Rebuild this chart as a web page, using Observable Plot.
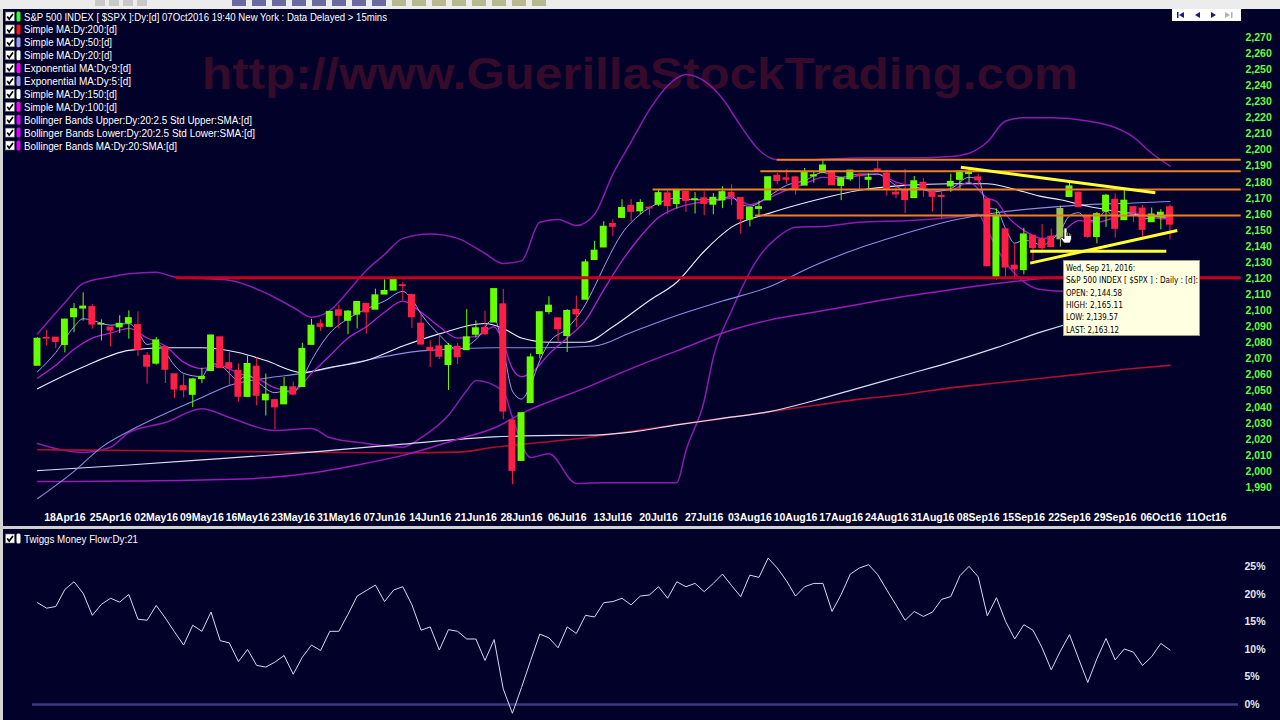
<!DOCTYPE html>
<html>
<head>
<meta charset="utf-8">
<script src="https://cdn.jsdelivr.net/npm/d3@7"></script>
<script src="https://cdn.jsdelivr.net/npm/@observablehq/plot@0.6"></script>
<style>
html,body{margin:0;padding:0;background:#01012a;overflow:hidden;}
#page{position:relative;width:1280px;height:720px;background:#01012a;overflow:hidden;}
.layer{position:absolute;left:0;}
</style>
</head>
<body>
<div id="page">
  <svg id="wm" class="layer" style="top:0" width="1280" height="528"></svg>
  <div id="price" class="layer" style="top:0"></div>
  <div id="flow" class="layer" style="top:530px"></div>
  <svg id="over" class="layer" style="top:0" width="1280" height="720"></svg>
</div>
<script>
// ---------------- DATA ----------------
// daily candles, index 0 = 13 Apr 2016 ... index 124 = 07 Oct 2016
const open = [
2065.9,2082.9,2083.1,2078.8,2096.1,2101.5,2102.1,2091.5,2089.4,2089.8,
2092.3,2090.9,2071.8,2067.2,2077.2,2060.3,2052.9,2047.8,2057.6,2062.6,
2083.3,2067.2,2062.5,2046.5,2065.0,2044.4,2044.2,2041.9,2052.2,2052.7,
2078.9,2091.4,2090.1,2100.1,2093.9,2097.7,2104.1,2100.8,2110.2,2112.7,
2115.7,2109.6,2091.8,2076.7,2077.6,2066.4,2077.4,2075.6,2085.2,2089.2,
2092.8,2103.8,2031.5,2006.7,2042.7,2073.2,2099.3,2095.1,2084.4,2100.4,
2107.0,2131.7,2139.5,2153.8,2157.9,2165.1,2162.0,2164.0,2166.1,2172.9,
2166.5,2173.7,2169.0,2169.8,2166.1,2168.8,2173.2,2169.9,2156.8,2163.5,
2168.8,2183.8,2182.2,2182.8,2178.0,2183.7,2186.1,2186.2,2177.8,2181.9,
2184.2,2181.6,2187.8,2185.1,2173.3,2175.1,2170.2,2179.5,2173.6,2171.3,
2177.5,2181.6,2185.2,2182.8,2169.1,2120.9,2150.5,2127.9,2125.4,2146.5,
2144.0,2145.9,2144.58,2170.9,2173.3,2158.5,2146.0,2161.9,2168.9,2156.5,
2164.3,2163.4,2155.2,2158.2,2164.2];
const high = [
2083.2,2087.8,2083.2,2094.7,2104.4,2111.1,2103.8,2094.3,2089.4,2096.9,
2099.9,2099.3,2073.9,2083.4,2077.2,2060.3,2060.2,2057.7,2064.2,2084.9,
2083.3,2073.9,2066.8,2071.9,2070.7,2060.6,2044.2,2058.4,2055.6,2079.7,
2094.7,2094.3,2099.1,2103.5,2100.0,2105.3,2104.1,2113.4,2119.2,2120.6,
2117.6,2109.6,2098.1,2081.3,2085.2,2079.6,2079.6,2100.7,2093.7,2099.7,
2113.3,2113.3,2031.5,2036.1,2073.1,2098.9,2108.7,2095.1,2100.7,2109.1,
2131.7,2143.2,2155.4,2156.5,2169.0,2169.1,2169.1,2164.6,2175.6,2174.6,
2175.1,2173.7,2173.5,2174.0,2172.9,2177.1,2178.3,2170.2,2163.8,2168.2,
2182.9,2185.4,2187.7,2183.4,2188.5,2186.3,2193.8,2186.2,2183.1,2187.0,
2185.0,2185.2,2193.4,2186.7,2179.0,2187.9,2183.5,2182.3,2173.6,2173.6,
2184.9,2186.6,2187.9,2184.9,2169.1,2163.3,2150.5,2141.3,2151.3,2146.5,
2153.6,2150.8,2165.11,2179.99,2173.8,2158.5,2161.1,2172.4,2172.7,2175.3,
2164.4,2165.5,2163.9,2162.9,2165.9];
const low = [
2065.9,2078.1,2076.3,2073.7,2086.3,2093.5,2088.5,2081.2,2077.5,2085.8,
2082.3,2071.6,2054.3,2066.1,2054.7,2045.4,2045.8,2039.7,2054.6,2062.6,
2064.5,2053.1,2043.1,2046.5,2040.8,2034.5,2025.9,2041.9,2047.3,2052.7,
2078.9,2087.1,2090.1,2088.7,2085.1,2088.6,2085.4,2100.8,2110.2,2112.7,
2106.2,2089.0,2078.5,2064.6,2069.6,2050.4,2066.4,2075.6,2083.0,2084.4,
2092.8,2032.1,1991.7,2006.7,2042.7,2070.0,2097.5,2080.9,2074.0,2089.4,
2107.0,2131.7,2139.5,2146.2,2157.9,2155.2,2159.6,2159.0,2164.9,2159.8,
2163.2,2161.1,2160.2,2159.1,2159.7,2163.5,2165.4,2147.6,2152.1,2159.1,
2168.8,2178.5,2178.6,2172.0,2178.0,2179.4,2186.1,2178.1,2168.5,2180.5,
2175.1,2176.0,2186.8,2171.3,2169.7,2160.4,2170.2,2170.4,2161.4,2157.1,
2173.6,2175.1,2179.1,2177.5,2127.8,2119.1,2120.3,2120.0,2122.4,2131.2,
2135.9,2139.2,2139.57,2170.9,2163.97,2145.0,2141.6,2151.8,2145.2,2156.5,
2154.8,2144.9,2155.2,2150.3,2144.0];
const close = [
2082.4,2082.8,2080.7,2094.3,2100.8,2102.4,2091.5,2091.6,2087.8,2091.7,
2095.2,2075.8,2065.3,2081.4,2063.4,2051.1,2050.6,2057.1,2058.7,2084.4,
2064.5,2064.1,2046.6,2066.7,2047.2,2047.6,2040.0,2052.3,2048.0,2076.1,
2090.5,2090.1,2099.1,2097.0,2099.3,2105.3,2099.1,2109.4,2112.1,2119.1,
2115.5,2096.1,2079.1,2075.3,2071.5,2078.0,2071.2,2083.3,2088.9,2085.5,
2113.3,2037.4,2000.5,2036.1,2070.8,2098.9,2103.0,2088.6,2099.7,2097.9,
2129.9,2137.2,2152.1,2152.4,2163.8,2161.7,2166.9,2163.8,2173.0,2165.2,
2175.0,2168.5,2169.2,2166.6,2170.1,2173.6,2170.8,2157.0,2163.8,2164.3,
2182.9,2180.9,2181.7,2175.5,2185.8,2184.1,2190.2,2178.2,2182.2,2187.0,
2183.9,2182.6,2186.9,2175.4,2172.5,2169.0,2180.4,2176.1,2171.0,2170.9,
2180.0,2186.5,2186.2,2181.3,2127.8,2159.0,2127.0,2125.8,2147.3,2139.2,
2139.1,2139.8,2163.12,2177.2,2164.7,2146.1,2159.9,2171.4,2151.1,2168.3,
2161.2,2150.5,2159.7,2160.8,2153.7];

// indicator readings (day index -> value)
const sma200At  = [0,10,20,30,40,46,50,55,60,65,70,75,80,85,90,95,100,105,110,115,120,124];
const sma200Val = [2013.5,2013,2012.5,2012,2011.5,2012,2015,2018,2021,2025,2029,2033,2037,2041,2045,2048,2052,2055,2058,2061,2064,2066];
const sma150At  = [0,10,20,30,40,50,55,60,65,70,75,80,85,90,95,100,105,110,115,120,124];
const sma150Val = [2000.5,2004,2008,2012,2017,2021.5,2022.3,2022.5,2024.5,2029,2033,2037,2044,2052,2060,2068,2077,2087,2095,2101,2106];
const sma100At  = [0,10,20,25,30,35,40,46,50,53,60,65,70,76,80,85,90,95,100,105,110,115,120,124];
const sma100Val = [1993.7,1994,1995,1996,1999,2004,2010,2020,2027,2036,2052,2064,2075,2088,2094,2099,2104,2109,2113,2117,2120,2122,2124,2126];
const sma50At   = [0,4,7,10,14,18,21,25,29,35,42,50,56,61,65,70,75,80,85,90,95,100,105,110,115,120,124];
const sma50Val  = [1983,2000,2015,2025,2036,2046,2053.5,2058,2061,2068,2075,2077,2077,2078,2086.5,2097,2106,2114.6,2128,2139,2148,2156,2161,2164,2166,2167,2168];
const sma20At   = [0,5,10,14,18,22,25,29,32,36,40,44,49,51,53,56,60,63,67,70,73,76,80,85,90,95,100,104,106,108,110,112,115,118,120,124];
const sma20Val  = [2051.5,2065,2075.3,2077,2077,2074,2069,2061.5,2064.7,2069,2078,2085.6,2092,2089,2083,2080.4,2080.4,2090,2106.4,2117.7,2137,2152,2160.4,2168.6,2175,2178,2179,2179,2177,2174,2171,2169,2165,2162,2160,2158];
const ema9At    = [0,2,4,6,8,10,12,14,16,18,20,22,24,26,28,30,32,34,36,38,40,42,44,46,48,50,51,52,53,54,56,58,60,62,64,66,68,70,72,74,76,78,80,82,84,86,88,90,92,94,96,98,100,102,104,105,106,108,110,112,114,116,118,120,122,124];
const ema9Val   = [2058,2066,2076,2083,2086,2089,2083,2078,2068,2064,2066,2061,2058,2052,2050,2061,2072,2083,2090,2099,2106,2099,2090,2083,2084,2090,2080,2064,2059,2061,2073,2083,2094,2113,2131,2146,2158,2164,2167,2168,2170,2166,2170,2175,2179,2183,2182,2184,2185,2180,2177,2175,2175,2180,2170,2168,2160,2150,2145,2148,2156,2155,2158,2161,2158,2157];
const ema5At    = [0,2,4,5,6,8,10,11,12,13,14,15,16,18,19,20,22,23,24,26,27,28,29,30,32,34,36,38,40,41,42,44,46,48,50,51,52,53,54,55,56,58,60,61,62,64,66,68,70,72,74,76,77,78,80,82,84,86,88,90,92,93,95,96,98,100,102,103,104,105,106,107,108,110,112,113,114,115,116,117,118,119,120,121,122,123,124];
const ema5Val   = [2062,2074,2090,2095,2094,2091,2092,2087,2079,2080,2074,2066,2061,2059,2067,2066,2057,2060,2056,2049,2050,2049,2058,2069,2086,2095,2101,2106,2112,2107,2098,2085,2076,2082,2095,2076,2050,2045,2054,2069,2080,2089,2104,2115,2127,2148,2160,2167,2170,2169,2169,2171,2166,2165,2171,2178,2181,2186,2183,2185,2185,2182,2175,2177,2174,2176,2183,2182,2164,2163,2151,2142,2144,2141,2150,2159,2161,2156,2157,2162,2158,2161,2161,2157,2158,2159,2157];
const bbUpAt    = [0,3,5,8,10,13,15,18,21,25,28,30,32,34,36,38,40,43,46,49,51,53,55,57,59,61,63,65,67,69,71,73,75,77,79,81,85,90,95,100,102,104,106,108,111,115,118,120,122,124];
const bbUpVal   = [2085.6,2105,2117,2121,2123,2124,2121,2120,2119,2111,2102,2096,2100,2112,2125,2135,2145,2147.8,2145,2135.6,2129.4,2131,2155,2156.8,2153,2160,2185,2205,2225,2240,2247,2243,2232,2215,2200,2194,2194,2195,2195,2196,2198,2205,2218,2220,2220,2218,2214,2208,2198,2190];
const bbLoAt    = [0,3,5,8,10,14,18,21,26,30,32,36,40,42,45,47,48,51,52,54,56,59,62,66,70,71,73,74,76,79,81,83,86,90,95,100,103,104,106,108,110,113,116,120,124];
const bbLoVal   = [2017.4,2013,2011.8,2015,2024.2,2030.4,2039,2033.6,2025.5,2026.7,2021.1,2017.4,2015,2021,2035,2050.3,2056.6,2050,2033.6,2008.7,2011,1992.5,1993,1993,1993,2013,2044,2071,2100,2133.5,2145.6,2152,2152.4,2155,2156,2158,2160,2150,2130,2118,2113,2112,2112,2115,2118];

// Twiggs money flow (%), one reading per day
const moneyFlow = [
18.5,17.5,17.8,20.9,22.3,20.2,16.2,18.2,19.3,18.6,
20.0,15.5,15.3,18.0,15.7,13.2,10.8,14.4,13.3,16.8,
11.6,11.2,7.8,10.0,7.1,6.8,7.7,8.9,5.5,8.6,
10.8,9.8,13.3,13.3,16.4,19.7,20.7,21.7,18.7,20.8,
21.4,18.1,13.5,14.1,9.9,13.6,13.3,11.9,11.9,8.0,
11.8,2.8,-1.6,3.1,8.0,12.8,12.1,10.3,14.1,12.9,
16.2,15.9,18.5,18.7,19.3,18.1,19.7,19.9,21.4,19.3,
22.3,21.4,22.0,20.5,22.0,23.7,21.6,19.6,23.5,23.1,
26.6,24.8,22.5,19.7,21.4,22.0,22.0,16.9,20.0,23.7,
24.8,25.4,23.6,20.8,18.1,15.3,16.9,16.0,16.8,19.1,
19.6,23.4,25.1,23.2,16.1,19.4,15.1,11.9,14.5,13.5,
10.3,6.3,9.7,12.7,8.3,4.0,8.3,12.0,8.1,10.1,
9.5,7.1,8.7,11.1,9.9];

// drawn annotations (day index / price)
const resistLevel = [2193.9, 2186.8, 2175.4, 2159.2];
const resistFrom  = [81, 79.2, 67.4, 78.6];
const supportLevel = [2120.5];
const supportFrom  = [15.2];
const levelEnd = 131.8;
const trendX1 = [101.1, 108.7, 108.7];
const trendY1 = [2189.3, 2129.6, 2137];
const trendX2 = [122.4, 124.8, 123.6];
const trendY2 = [2173.4, 2149.9, 2137];

// axes
const yTicks = [1990,2000,2010,2020,2030,2040,2050,2060,2070,2080,2090,2100,2110,2120,2130,2140,2150,2160,2170,2180,2190,2200,2210,2220,2230,2240,2250,2260,2270];
const dateTickAt = [3,8,13,18,23,28,33,38,43,48,53,58,63,68,73,78,83,88,93,98,103,108,113,118,123,128];
const dateTickLabel = ["18Apr16","25Apr16","02May16","09May16","16May16","23May16","31May16","07Jun16","14Jun16","21Jun16","28Jun16","06Jul16","13Jul16","20Jul16","27Jul16","03Aug16","10Aug16","17Aug16","24Aug16","31Aug16","08Sep16","15Sep16","22Sep16","29Sep16","06Oct16","11Oct16"];
const flowTicks = [0,5,10,15,20,25];

// legend + tooltip texts
const legendLabels = ["S&P 500 INDEX [ $SPX ]:Dy:[d]  07Oct2016 19:40 New York : Data Delayed > 15mins","Simple MA:Dy:200:[d]","Simple MA:Dy:50:[d]","Simple MA:Dy:20:[d]","Exponential MA:Dy:9:[d]","Exponential MA:Dy:5:[d]","Simple MA:Dy:150:[d]","Simple MA:Dy:100:[d]","Bollinger Bands Upper:Dy:20:2.5 Std Upper:SMA:[d]","Bollinger Bands Lower:Dy:20:2.5 Std Lower:SMA:[d]","Bollinger Bands MA:Dy:20:SMA:[d]"];
const flowLabel = "Twiggs Money Flow:Dy:21";
const hoverIdx = 112;
const hoverDate = "Wed, Sep 21, 2016:";
const hoverName = "S&P 500 INDEX  [ $SPX ] : Daily : [d]:";
const watermark = "http://www.GuerillaStockTrading.com";

// ---------------- STYLE / LAYOUT ----------------
const FONT = '"Liberation Sans",Arial,sans-serif';
const legendColors = ["#33ff33","#ff1010","#9a9af5","#ffffff","#ff00ff","#9a9af5","#ffffff","#ff00ff","#dd00ff","#dd00ff","#dd00ff"];
const legendWidths = [363,93,88,88,107,107,93,93,228,231,153];
const UP = "#66ff00", DOWN = "#ff1f45", HOVER = "#9dbf55";

const series = (at, val) => at.map((i, k) => ({i, v: val[k]}));
const candles = close.map((c, i) => ({i, o: open[i], h: high[i], l: low[i], c}));
const candleColor = d => d.i === hoverIdx ? HOVER : (d.c >= d.o ? UP : DOWN);
const levels = resistLevel.map((v, k) => ({v, a: resistFrom[k], b: levelEnd}));
const supports = supportLevel.map((v, k) => ({v, a: supportFrom[k], b: levelEnd}));
const trends = trendX1.map((x, k) => ({x1: x, y1: trendY1[k], x2: trendX2[k], y2: trendY2[k]}));
const lineOpts = (stroke, w) => ({x: "i", y: "v", stroke, strokeWidth: w, curve: "monotone-x"});

const pricePlot = Plot.plot({
  width: 1280, height: 528,
  marginTop: 9, marginLeft: 4, marginRight: 38, marginBottom: 21,
  style: {background: "transparent", fontFamily: FONT, fontSize: "10.5px", fontWeight: "bold", overflow: "visible"},
  x: {type: "linear", domain: [0, 128], range: [37, 1206], axis: null},
  y: {type: "linear", domain: [1990, 2270], range: [487, 37], axis: null},
  marks: [
    Plot.line(series(bbUpAt, bbUpVal), lineOpts("#8c1cb0", 1.5)),
    Plot.line(series(bbLoAt, bbLoVal), lineOpts("#8c1cb0", 1.5)),
    Plot.line(series(sma200At, sma200Val), lineOpts("#b0102e", 1.6)),
    Plot.line(series(sma150At, sma150Val), lineOpts("#dcdcf8", 1.2)),
    Plot.line(series(sma100At, sma100Val), lineOpts("#9a1ab8", 1.5)),
    Plot.line(series(sma50At, sma50Val), lineOpts("#8c8ce0", 1.1)),
    Plot.line(series(sma20At, sma20Val), lineOpts("#ececff", 1.1)),
    Plot.line(series(ema9At, ema9Val), lineOpts("#b020d0", 1.3)),
    Plot.line(series(ema5At, ema5Val), lineOpts("#a0a0f0", 1)),
    Plot.ruleX(candles, {x: "i", y1: "l", y2: "h", stroke: candleColor, strokeWidth: 1}),
    Plot.rect(candles, {x1: d => d.i - 0.38, x2: d => d.i + 0.38, y1: "o", y2: "c", fill: candleColor, insetTop: -0.75, insetBottom: -0.75}),
    Plot.ruleY(supports, {y: "v", x1: "a", x2: "b", stroke: "#c8001e", strokeWidth: 3}),
    Plot.ruleY(levels, {y: "v", x1: "a", x2: "b", stroke: "#f0801e", strokeWidth: 2}),
    Plot.link(trends, {x1: "x1", y1: "y1", x2: "x2", y2: "y2", stroke: "#ffff33", strokeWidth: 3}),
    Plot.axisY({anchor: "right", label: null, ticks: yTicks, tickFormat: d3.format(","), tickSize: 0, tickPadding: 3, fill: "#66ff33", ariaLabel: "price-ticks"}),
    Plot.axisX({anchor: "bottom", label: null, ticks: dateTickAt, tickFormat: d => dateTickLabel[dateTickAt.indexOf(d)], tickSize: 0, tickPadding: 6, fill: "#ffffff", ariaLabel: "date-ticks"})
  ]
});
document.getElementById("price").appendChild(pricePlot);

const flowPlot = Plot.plot({
  width: 1280, height: 190,
  marginTop: 10, marginLeft: 32, marginRight: 42, marginBottom: 10,
  style: {background: "transparent", fontFamily: FONT, fontSize: "10.5px", fontWeight: "bold"},
  x: {type: "linear", domain: [0, 128], range: [37, 1206], axis: null},
  y: {type: "linear", domain: [0, 25], range: [174, 36.4], axis: null},
  marks: [
    Plot.ruleY([0], {stroke: "#3a3a80", strokeWidth: 2.5}),
    Plot.line(moneyFlow.map((v, i) => ({i, v})), {x: "i", y: "v", stroke: "#d8d8f4", strokeWidth: 1}),
    Plot.axisY({anchor: "right", label: null, ticks: flowTicks, tickFormat: d => d + "%", tickSize: 0, tickPadding: 6, fill: "#e8e8e8", ariaLabel: "flow-ticks"})
  ]
});
document.getElementById("flow").appendChild(flowPlot);

// condense the axis tick labels to the narrow face of the original
d3.select(pricePlot).selectAll('[aria-label="price-ticks"] text').attr("textLength", 22.5).attr("lengthAdjust", "spacingAndGlyphs");
d3.select(pricePlot).selectAll('[aria-label="date-ticks"] text').attr("textLength", 36).attr("lengthAdjust", "spacingAndGlyphs");
d3.select(flowPlot).selectAll('[aria-label="flow-ticks"] text').each(function () {
  const n = this.textContent.length;
  d3.select(this).attr("textLength", n >= 3 ? 17 : 12).attr("lengthAdjust", "spacingAndGlyphs");
});

// watermark (behind chart)
d3.select("#wm").append("text")
  .attr("x", 202).attr("y", 89)
  .attr("textLength", 876).attr("lengthAdjust", "spacingAndGlyphs")
  .attr("font-family", '"Liberation Sans",Arial,sans-serif').attr("font-weight", "bold").attr("font-size", 45)
  .attr("fill", "#360a2a").text(watermark);

// overlays
const ov = d3.select("#over");
// toolbar strip
ov.append("rect").attr("x", 0).attr("y", 0).attr("width", 1280).attr("height", 9).attr("fill", "#ececec");
[0,1,2,3].forEach(k => ov.append("rect").attr("x", 95 + k * 14).attr("y", 0).attr("width", 10).attr("height", 6).attr("fill", "#c8c8c8"));
[0,1,2,3,4,5,6,7,8,9,10,11,12,13,14,15].forEach(k => ov.append("rect").attr("x", 232 + k * 20).attr("y", 0).attr("width", 14).attr("height", 6).attr("fill", k < 8 ? "#6a6aa0" : "#b8b890"));
// left border
ov.append("rect").attr("x", 0).attr("y", 9).attr("width", 3).attr("height", 711).attr("fill", "#d4d4d4");
// panel separator
ov.append("rect").attr("x", 0).attr("y", 526).attr("width", 1280).attr("height", 3).attr("fill", "#cfcfcf");

function checkbox(y, color) {
  ov.append("rect").attr("x", 5.5).attr("y", y - 4.5).attr("width", 9).attr("height", 9).attr("fill", "#ffffff").attr("stroke", "#666").attr("stroke-width", 0.6);
  ov.append("path").attr("d", `M7.2,${y} l2,2.6 l3.8,-5.2`).attr("fill", "none").attr("stroke", "#000").attr("stroke-width", 1.7);
  ov.append("rect").attr("x", 16.5).attr("y", y - 5).attr("width", 4).attr("height", 10).attr("rx", 1.5).attr("fill", color);
}
legendLabels.forEach((t, k) => {
  const cy = 16.5 + k * 12.9;
  checkbox(cy, legendColors[k]);
  ov.append("text").attr("x", 24).attr("y", cy + 4).attr("textLength", legendWidths[k]).attr("lengthAdjust", "spacingAndGlyphs")
    .attr("font-family", '"Liberation Sans",Arial,sans-serif').attr("font-size", 11).attr("fill", "#ffffff").text(t);
});
checkbox(538.5, "#ffffff");
ov.append("text").attr("x", 24).attr("y", 542.5).attr("textLength", 114).attr("lengthAdjust", "spacingAndGlyphs")
  .attr("font-family", '"Liberation Sans",Arial,sans-serif').attr("font-size", 11).attr("fill", "#ffffff").text(flowLabel);

// navigation buttons
ov.append("rect").attr("x", 1172).attr("y", 9).attr("width", 69).attr("height", 12).attr("fill", "#ffffff");
const nav = ov.append("g").attr("fill", "#1c1c70");
nav.append("rect").attr("x", 1177).attr("y", 12).attr("width", 1.5).attr("height", 6);
nav.append("path").attr("d", "M1179,15 l5,-3 v6z");
nav.append("path").attr("d", "M1195,15 l5,-3 v6z");
nav.append("path").attr("d", "M1216,15 l-5,-3 v6z");
nav.append("path").attr("d", "M1230,15 l-5,-3 v6z").attr("fill", "#b0b0c8");
nav.append("rect").attr("x", 1231).attr("y", 12).attr("width", 1.5).attr("height", 6).attr("fill", "#b0b0c8");

// tooltip
const fmt = d3.format(",.2f");
const tipLines = [hoverDate, hoverName, "OPEN: " + fmt(open[hoverIdx]), "HIGH: " + fmt(high[hoverIdx]), "LOW: " + fmt(low[hoverIdx]), "LAST: " + fmt(close[hoverIdx])];
const tipWidths = [69, 132, 56, 57, 52, 53];
ov.append("rect").attr("x", 1063.5).attr("y", 260.5).attr("width", 136).attr("height", 75).attr("fill", "#ffffe1").attr("stroke", "#9a9a80").attr("stroke-width", 1);
tipLines.forEach((t, k) => {
  ov.append("text").attr("x", 1066).attr("y", 271 + k * 12.3).attr("textLength", tipWidths[k]).attr("lengthAdjust", "spacingAndGlyphs")
    .attr("font-family", '"DejaVu Sans","Liberation Sans",sans-serif').attr("font-size", 9).attr("fill", "#000").text(t);
});
// mouse cursor (hand)
ov.append("path").attr("d", "M1064,228 v11 l-2,-2 l-1.5,1 l3.5,5 h6 l1.5,-4 v-5 h-1.5 v2 v-3 h-1.5 v3 v-4 h-1.5 v4 v-8 z")
  .attr("fill", "#ffffff").attr("stroke", "#000").attr("stroke-width", 0.7);
</script>
</body>
</html>
